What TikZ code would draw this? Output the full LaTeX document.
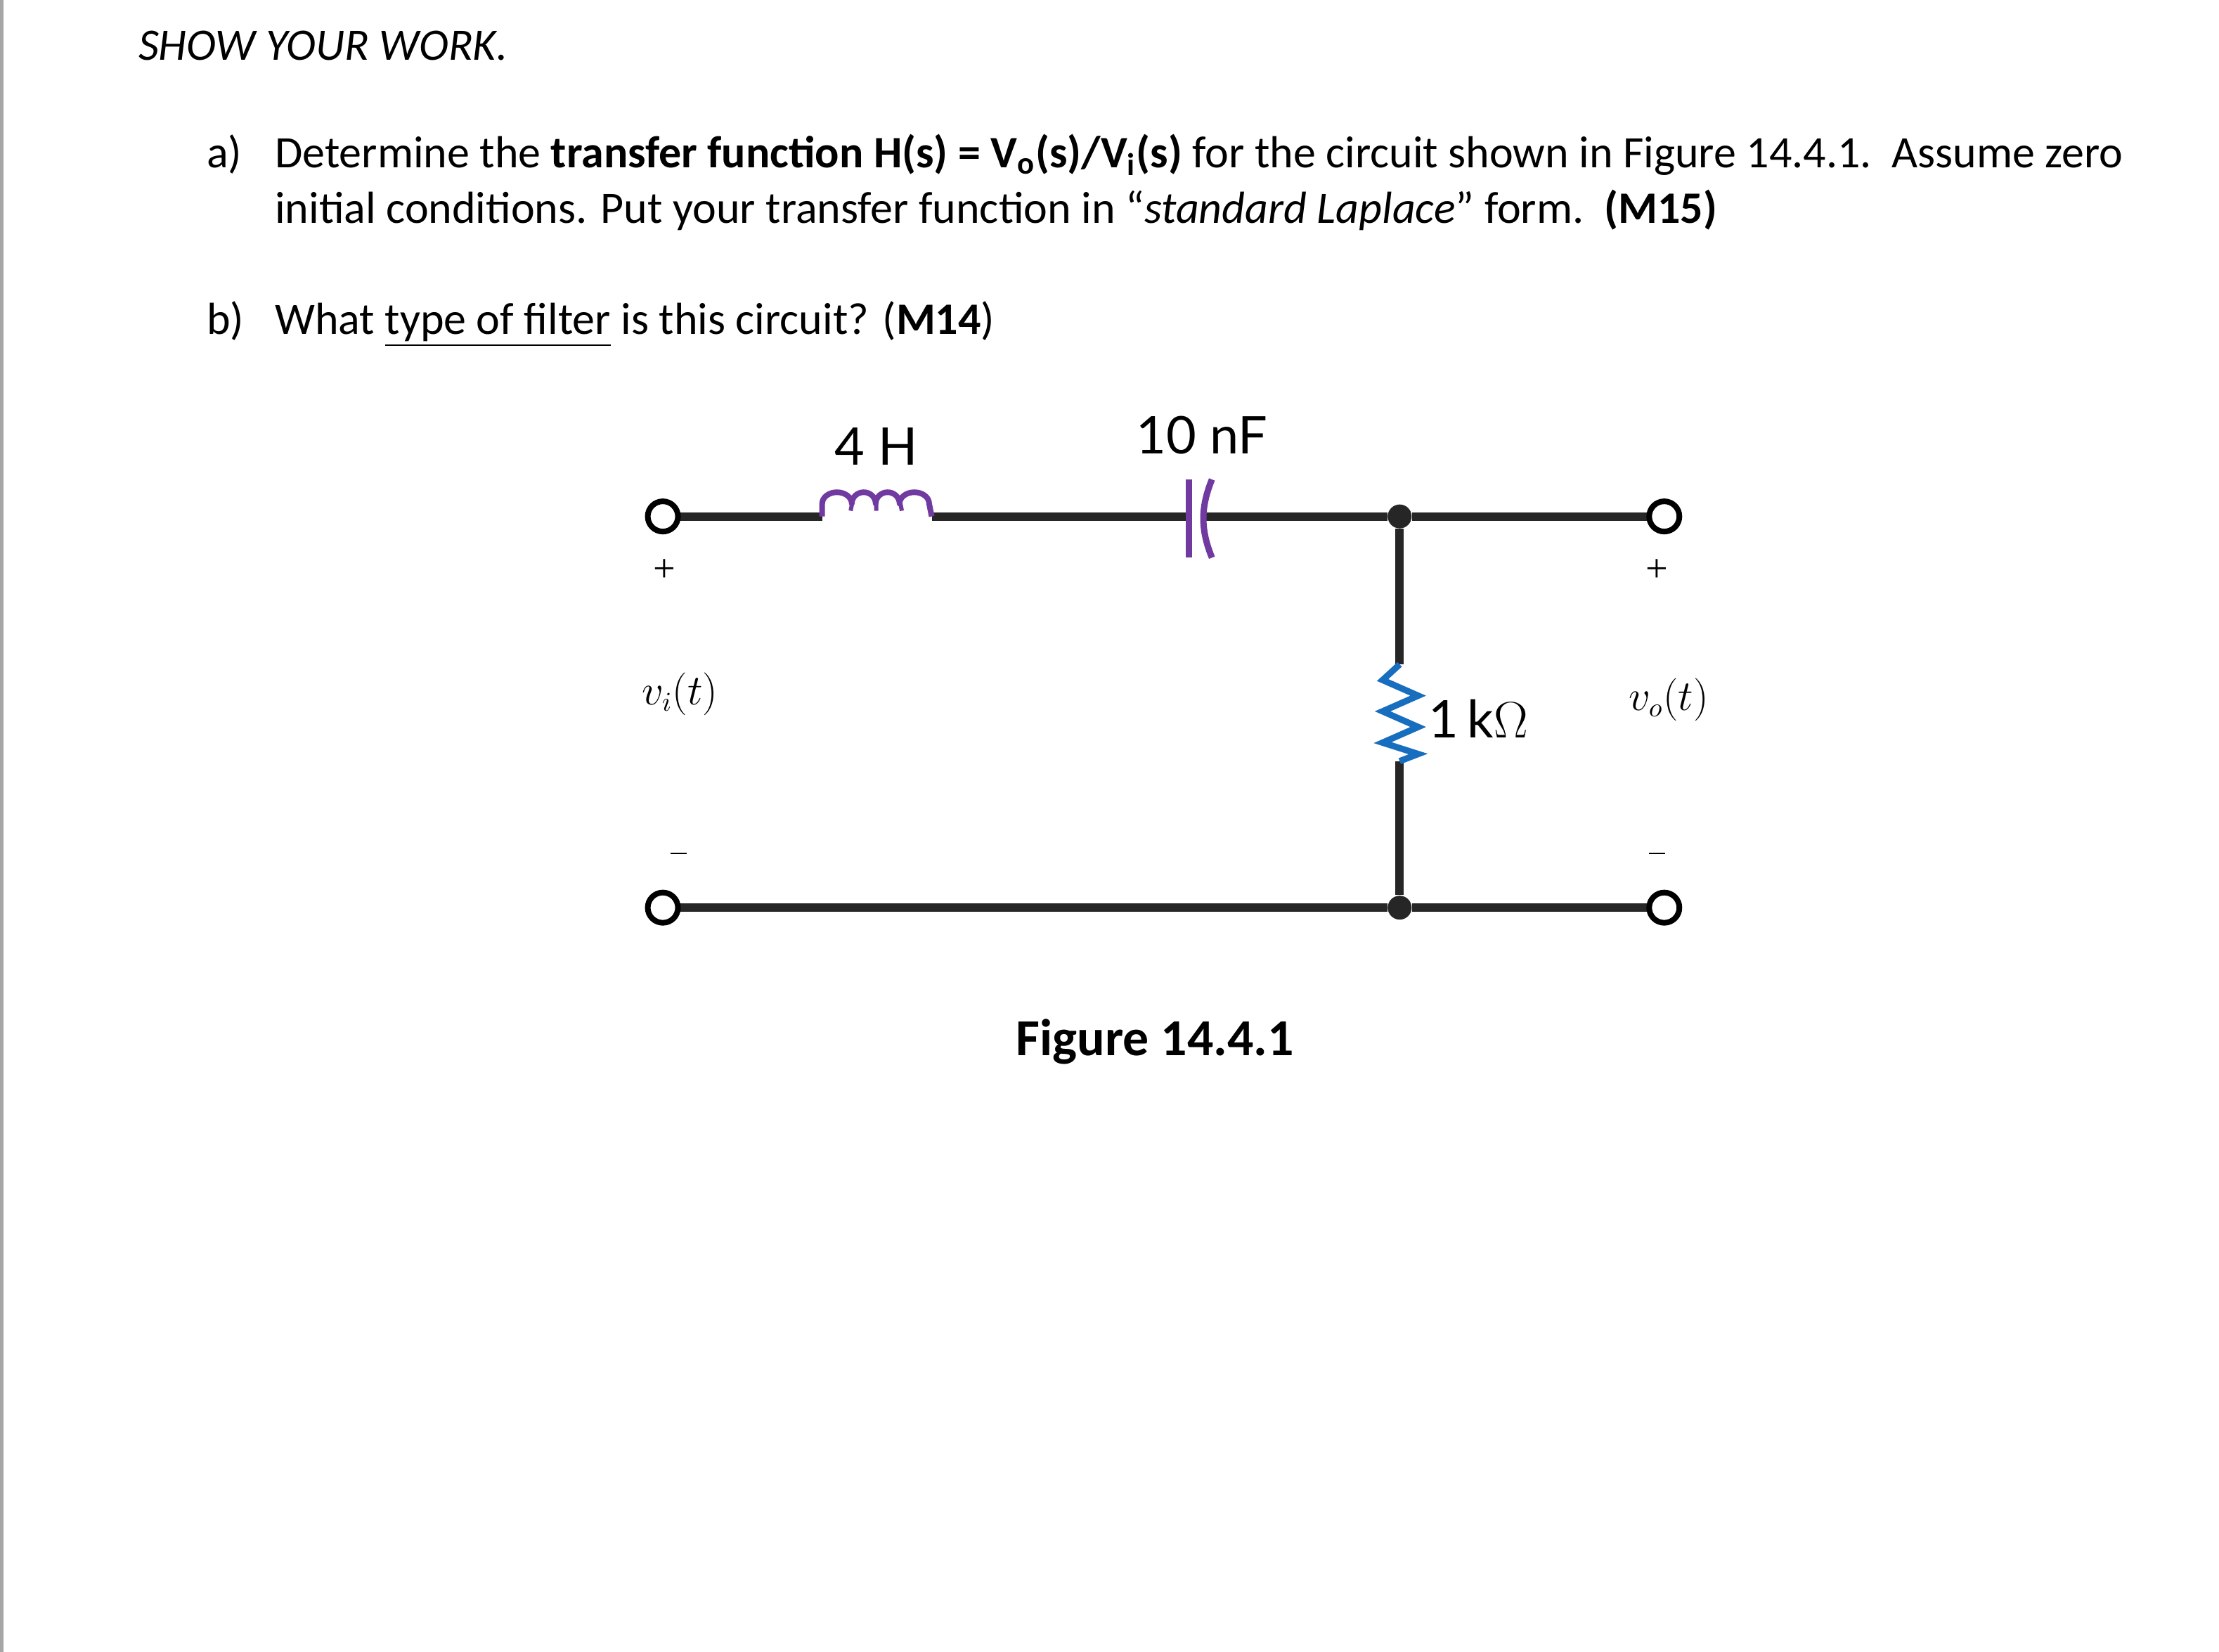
\documentclass[tikz,border=0pt]{standalone}
\usepackage{fontspec}
\setmainfont{Carlito}
\newfontfamily\lab{Lato}
\newfontfamily\ser{Liberation Serif}
\definecolor{ind}{RGB}{112,58,160}
\definecolor{res}{RGB}{24,110,190}
\begin{document}
\begin{tikzpicture}[x=0.2024mm,y=-0.2024mm,
  wire/.style={line width=1.2mm, black!85},
  term/.style={circle,draw,line width=0.8mm,fill=white,minimum size=4.3mm,inner sep=0pt},
  dot/.style={circle,fill=black!85,minimum size=3.4mm,inner sep=0pt},
  body/.style={anchor=base west,inner sep=0pt,font=\fontsize{18.2}{22}\selectfont},
  clab/.style={font=\lab\fontsize{21}{24}\selectfont,inner sep=0pt},
  sgn/.style={font=\ser\fontsize{16}{18}\selectfont,inner sep=0pt}]
\fill[white] (0,0) rectangle (1560,1161);
\useasboundingbox (0,0) rectangle (1560,1161);
\draw[gray!70,line width=0.5mm] (1,0) -- (1,1161);
% text
\node[body] (t0) at (97,42) {\itshape SHOW YOUR WORK.};
\node[body] (ta) at (145,118) {a)};
\node[body] (ta1) at (193,118) {Determine the \textbf{transfer function H(s) = V\textsubscript{o}(s)/V\textsubscript{i}(s)} for the circuit shown in Figure 14.4.1.\ \ Assume zero};
\node[body] (ta2) at (193,157) {initial conditions. Put your transfer function in ``\textit{standard Laplace}'' form.\ \ \textbf{(M15)}};
\node[body] (tb) at (145,235) {b)};
\node[body] (tb1) at (193,235) {What \underline{type of filter} is this circuit? (\textbf{M14})};
% circuit coordinates
\coordinate (L1) at (578,363); \coordinate (L2) at (655,363);
\coordinate (C1) at (836,363); \coordinate (C2) at (848,363);
\coordinate (R1) at (984,467); \coordinate (R2) at (984,535);
\node[dot] (nt) at (984,363) {};
\node[dot] (nb) at (984,638) {};
\draw[wire] (466,363) -- (L1);
\draw[wire] (L2) -- (C1);
\draw[wire] (C2) -- (nt) -- (1170,363);
\draw[wire] (466,638) -- (nb) -- (1170,638);
\draw[wire] (nt) -- (R1);
\draw[wire] (R2) -- (nb);
% inductor
\draw[ind,line width=0.8mm,line join=round] (L1) -- (578,354)
  arc[start angle=180,end angle=360,x radius=10.4,y radius=8]
  arc[start angle=180,end angle=360,x radius=8.4,y radius=8]
  arc[start angle=180,end angle=360,x radius=8.4,y radius=8]
  arc[start angle=180,end angle=360,x radius=10.4,y radius=8]
  -- (L2);
\draw[ind,line width=0.6mm] (599,354) -- (598,359) (616,354) -- (616,359) (633,354) -- (634,359);
% capacitor
\draw[ind,line width=0.9mm] (836,337) -- (836,392);
\draw[ind,line width=0.9mm] (852,337) to[bend right=22] (852,392);
% resistor
\draw[res,line width=0.9mm,line join=miter] (R1) -- (972,478) -- (997,489) -- (972,500) -- (997,511) -- (972,522) -- (997,530) -- (R2);
\node[term] (a1) at (466,363) {};
\node[term] (a2) at (466,638) {};
\node[term] (b1) at (1170,363) {};
\node[term] (b2) at (1170,638) {};
% labels
\node[clab] (lL) at (616,314) {4 H};
\node[clab] (lC) at (845,306) {10 nF};
\node[clab,anchor=west] (lR) at (1004,505) {1\,k$\Omega$};
\node[sgn] (p1) at (467,401) {+};
\node[sgn] (m1) at (477,600) {\rule{6.5pt}{0.5pt}};
\node[sgn] (p2) at (1165,401) {+};
\node[sgn] (m2) at (1165,600) {\rule{6.5pt}{0.5pt}};
\node[sgn] (vi) at (478,488) {$v_i(t)$};
\node[sgn] (vo) at (1173,492) {$v_o(t)$};
\node[font=\bfseries\fontsize{21}{24}\selectfont] (fig) at (812,732) {Figure 14.4.1};
\end{tikzpicture}
\end{document}
